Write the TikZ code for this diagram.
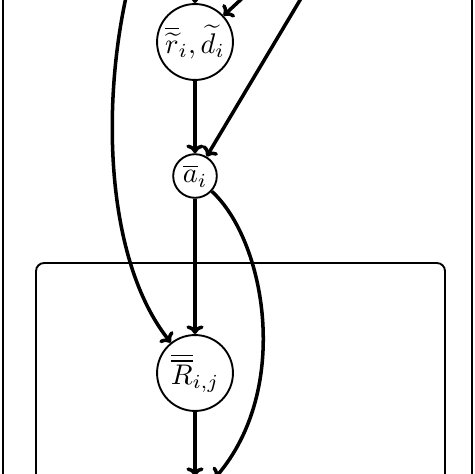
\documentclass[tikz,border=0pt]{standalone}
\usetikzlibrary{arrows.meta}
\begin{document}
\begin{tikzpicture}[x=0.13mm, y=-0.13mm,
    var/.style={circle, draw, line width=0.7pt, inner sep=0pt, scale=1.05},
    edge/.style={-{To[length=3.2pt,width=6.4pt]}, line width=1.3pt},
    plate/.style={draw, line width=0.7pt}]
  \useasboundingbox (0,0) rectangle (474,474);

  \draw[plate] (3,-40) rectangle (472,520);
  \draw[plate, rounded corners=3pt] (36,263) rectangle (445,520);

  \node[var, minimum size=9.4mm] (rd) at (195,42) {$\overline{\widetilde{r}}_i, \widetilde{d}_i$};
  \node[var, minimum size=5.4mm] (a) at (195,176) {$\overline{a}_i$};
  \node[var, minimum size=9.4mm] (R) at (195,373) {$\overline{\overline{R}}_{i,j}$};

  \coordinate (inL) at (130,-20);
  \coordinate (inC) at (195,-20);
  \coordinate (inM) at (262,-20);
  \coordinate (inR) at (312,-20);
  \coordinate (outC) at (195,476);
  \coordinate (outR) at (215,478);

  \draw[edge] (inC) -- (rd);
  \draw[edge] (inM) -- (rd);
  \draw[edge] (rd) -- (a);
  \draw[edge] (inR) -- (a);
  \draw[edge] (a) -- (R);
  \draw[edge] (inL) .. controls (100,100) and (105,260) .. (R);
  \draw[edge] (R) -- (outC);
  \draw[edge] (a) .. controls (265,240) and (292,388) .. (outR);
\end{tikzpicture}
\end{document}
